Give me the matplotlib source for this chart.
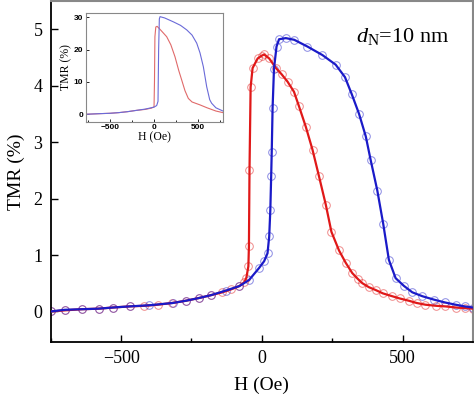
import matplotlib
matplotlib.use("Agg")
import matplotlib.pyplot as plt
from matplotlib.ticker import MultipleLocator

# ---------------- data ----------------
red_H = [-750, -700, -640, -580, -530, -470, -420, -370, -320, -270, -222, -180,
         -140, -110, -80, -62, -55, -48, -46, -44, -40, -33, -15, 0, 8, 26, 50,
         70, 91, 114, 132, 156, 180, 203, 227, 247, 274, 298, 321, 340, 357, 380,
         404, 430, 463, 490, 522, 550, 581, 620, 652, 690, 723, 750]
red_T = [0.00, 0.02, 0.04, 0.05, 0.07, 0.09, 0.10, 0.12, 0.15, 0.19, 0.24, 0.29,
         0.34, 0.39, 0.45, 0.52, 0.60, 0.80, 1.16, 2.50, 3.97, 4.31, 4.48, 4.53, 4.55,
         4.48, 4.31, 4.20, 4.07, 3.89, 3.63, 3.27, 2.86, 2.39, 1.89, 1.41, 1.08,
         0.86, 0.68, 0.58, 0.50, 0.43, 0.38, 0.32, 0.27, 0.23, 0.19, 0.15, 0.12,
         0.10, 0.09, 0.07, 0.06, 0.05]

blue_H = [-750, -700, -640, -580, -530, -470, -400, -317, -270, -222, -180, -128,
          -80, -45, -10, 8, 20, 26, 30, 33, 35, 38, 43, 52, 61, 85, 115, 162, 215,
          262, 295, 319, 345, 369, 386, 410, 431, 451, 475, 504, 534, 570, 611,
          650, 688, 720, 750]
blue_T = [0.00, 0.03, 0.04, 0.05, 0.07, 0.09, 0.11, 0.15, 0.19, 0.24, 0.29, 0.37,
          0.45, 0.56, 0.77, 0.89, 1.03, 1.33, 1.80, 2.40, 2.83, 3.60, 4.30, 4.69,
          4.82, 4.84, 4.81, 4.69, 4.54, 4.37, 4.15, 3.85, 3.50, 3.10, 2.69, 2.14,
          1.55, 0.915, 0.59, 0.455, 0.34, 0.27, 0.21, 0.16, 0.12, 0.09, 0.07]

inset_red_H = [-770, -600, -500, -400, -300, -250, -200, -100, -30, 0, 5, 10, 20,
               35, 60, 100, 143, 190, 237, 280, 313, 350, 388, 430, 520, 600, 700, 780]
inset_red_T = [0.0, 0.2, 0.3, 0.5, 0.8, 1.0, 1.2, 1.5, 1.9, 2.3, 10.0, 24.0, 27.0,
               27.2, 26.5, 25.3, 24.0, 21.5, 17.8, 13.5, 10.6, 7.3, 4.9, 3.8, 2.9,
               2.0, 1.0, 0.5]
inset_blue_H = [-770, -600, -500, -400, -300, -250, -200, -100, 0, 30, 45, 52, 60,
                68, 120, 218, 300, 370, 430, 483, 520, 558, 596, 630, 652, 700, 780]
inset_blue_T = [0.0, 0.2, 0.3, 0.5, 0.8, 1.0, 1.2, 1.6, 2.2, 2.7, 4.0, 20.0, 29.5,
                30.2, 29.8, 28.6, 27.5, 26.1, 24.5, 22.0, 19.0, 14.7, 8.5, 4.5, 3.4,
                2.0, 1.0]

main_xticks = [-500, 0, 500]
main_yticks = [0, 1, 2, 3, 4, 5]
inset_xticks = [-500, 0, 500]
inset_yticks = [0, 10, 20, 30]

# ---------------- style ----------------
plt.rcParams['font.family'] = ['Liberation Serif', 'DejaVu Serif']
plt.rcParams['mathtext.fontset'] = 'custom'
plt.rcParams['mathtext.rm'] = 'Liberation Serif'
plt.rcParams['mathtext.it'] = 'Liberation Serif:italic'

RED = '#e01818'
BLUE = '#1a1ac8'

fig = plt.figure(figsize=(4.74, 3.99), dpi=100)
ax = fig.add_axes([0.107, 0.1429, 0.891, 0.855])

ax.plot(red_H, red_T, '-', color=RED, lw=1.6, zorder=3)
ax.plot(red_H, red_T, 'o', ms=5.5, mfc='none', mec=RED, mew=0.7, alpha=0.5, zorder=2)
ax.plot(blue_H, blue_T, '-', color=BLUE, lw=1.6, zorder=4)
ax.plot(blue_H, blue_T, 'o', ms=5.5, mfc='none', mec=BLUE, mew=0.7, alpha=0.5, zorder=2)

ax.set_xlim(-750, 750)
ax.set_ylim(-0.54, 5.5)
ax.set_xticks(main_xticks)
ax.xaxis.set_minor_locator(MultipleLocator(250))
ax.set_yticks(main_yticks)
ax.tick_params(axis='both', which='major', direction='in', length=5, width=1,
               labelsize=13, pad=6)
ax.tick_params(axis='x', which='minor', direction='in', length=3, width=1)
ax.tick_params(top=False, right=False, which='both')
for s in ['left', 'bottom']:
    ax.spines[s].set_linewidth(1.3)
    ax.spines[s].set_color('black')
for s in ['top', 'right']:
    ax.spines[s].set_linewidth(1.5)
    ax.spines[s].set_color('#888888')

ax.set_xlabel('H (Oe)', fontsize=14, labelpad=7)
ax.set_ylabel('TMR (%)', fontsize=14, labelpad=6)

ax.text(0.723, 0.878, r'$d_\mathrm{N}$=10 nm', transform=ax.transAxes,
        fontsize=16, ha='left', va='baseline')

# ---------------- inset ----------------
ins = fig.add_axes([0.1814, 0.695, 0.289, 0.273])
ins.plot(inset_red_H, inset_red_T, '-', color='#e06a6a', lw=0.8)
ins.plot(inset_blue_H, inset_blue_T, '-', color='#6a6ad8', lw=0.8)
ins.set_xlim(-770, 780)
ins.set_ylim(-2.3, 31.4)
ins.set_xticks(inset_xticks)
ins.xaxis.set_minor_locator(MultipleLocator(250))
ins.set_yticks(inset_yticks)
ins.tick_params(axis='both', which='major', direction='in', length=2.5, width=0.6,
                labelsize=6, pad=2)
ins.tick_params(axis='x', which='minor', direction='in', length=1.5, width=0.6)
for lab in ins.get_xticklabels() + ins.get_yticklabels():
    lab.set_fontfamily('Liberation Sans')
    lab.set_fontweight('bold')
for s in ins.spines.values():
    s.set_color('#888888')
    s.set_linewidth(0.8)
ins.set_xlabel('H (Oe)', fontsize=8.5, labelpad=0)
ins.set_ylabel('TMR (%)', fontsize=8.5, labelpad=1)

fig.savefig('out.png', dpi=100)
